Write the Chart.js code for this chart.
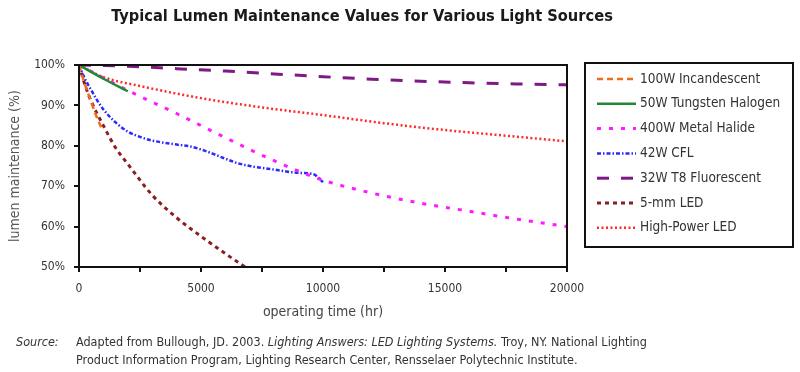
<!DOCTYPE html>
<html>
<head>
<meta charset="utf-8">
<script src="https://cdn.jsdelivr.net/npm/chart.js@4/dist/chart.umd.min.js"></script>
<style>
  html, body { margin: 0; padding: 0; background: #fff; }
</style>
</head>
<body>
<canvas id="chart" width="800" height="372"></canvas>
<script>
// values (hours vs. % of initial lumens)
const incandescentHours = [0, 200, 450, 700, 950]
const incandescentValues = [100, 96, 91.7, 87.5, 84]

const halogenHours = [0, 1000, 2000]
const halogenValues = [100, 96.6, 93.5]

const metalHalideHours = [0, 2000, 4000, 6000, 8000, 10000, 12000, 14000, 16000, 18000, 20000]
const metalHalideValues = [100, 93.7, 88, 82, 76.3, 71.5, 68.3, 65.8, 63.8, 61.8, 60]

const cflHours = [0, 250, 500, 750, 1000, 1500, 2000, 2500, 3000, 4000, 4500, 5000, 5500, 6000, 6500, 7000, 8000, 9000, 9600, 10000]
const cflValues = [100, 96.5, 93.8, 91.2, 89, 85.8, 83.5, 82.2, 81.3, 80.3, 79.9, 79.1, 78, 76.8, 75.7, 75, 74.1, 73.3, 73, 71]

const t8Hours = [0, 2000, 4000, 6000, 8000, 10000, 12000, 14000, 16000, 18000, 20000]
const t8Values = [100, 99.7, 99.1, 98.5, 97.8, 97.1, 96.5, 96, 95.6, 95.3, 95.1]

const led5mmHours = [0, 250, 500, 1000, 1500, 2000, 3000, 4000, 5000, 6000, 7000]
const led5mmValues = [100, 95, 91, 85, 79.5, 75.5, 67.8, 62.2, 57.6, 53.3, 49.2]

const hpLedHours = [0, 1000, 2500, 5000, 7500, 10000, 12500, 15000, 17500, 20000]
const hpLedValues = [100, 97, 94.8, 91.8, 89.5, 87.6, 85.6, 83.9, 82.5, 81.1]

const seriesLabels = ["100W Incandescent", "50W Tungsten Halogen", "400W Metal Halide", "42W CFL", "32W T8 Fluorescent", "5-mm LED", "High-Power LED"]

const chartTitle = "Typical Lumen Maintenance Values for Various Light Sources"
const xTitle = "operating time (hr)"
const yTitle = "lumen maintenance (%)"

const FONT = "'Liberation Sans Narrow', 'DejaVu Sans Condensed', sans-serif"

function pts(hours, values) {
  return hours.map((h, i) => ({x: h, y: values[i]}))
}

function line(label, hours, values, color, dash, width) {
  return {
    label: label,
    data: pts(hours, values),
    borderColor: color,
    backgroundColor: color,
    borderDash: dash,
    borderWidth: width,
    pointRadius: 0,
    cubicInterpolationMode: "monotone",
    fill: false,
    clip: 0
  }
}

const datasets = [
  line(seriesLabels[0], incandescentHours, incandescentValues, "#f26a1b", [6, 4], 2.5),
  line(seriesLabels[1], halogenHours, halogenValues, "#1f8a32", [], 2.5),
  line(seriesLabels[2], metalHalideHours, metalHalideValues, "#ff1aff", [4, 8], 3),
  line(seriesLabels[3], cflHours, cflValues, "#2a2aff", [4, 2, 1.5, 2], 2.5),
  line(seriesLabels[4], t8Hours, t8Values, "#7d1a86", [12, 12], 3),
  line(seriesLabels[5], led5mmHours, led5mmValues, "#8a1f1f", [4, 4], 3),
  line(seriesLabels[6], hpLedHours, hpLedValues, "#ff2a2a", [2, 2.5], 2.5)
]

// frame, title, boxed legend and source note
const decorations = {
  id: "decorations",
  afterDatasetsDraw(chart) {
    const {ctx, chartArea} = chart
    ctx.save()
    ctx.strokeStyle = "#111"
    ctx.lineWidth = 2
    ctx.setLineDash([])
    ctx.strokeRect(chartArea.left, chartArea.top, chartArea.right - chartArea.left, chartArea.bottom - chartArea.top)
    ctx.restore()
  },
  afterDraw(chart) {
    const ctx = chart.ctx
    ctx.save()

    ctx.fillStyle = "#1a1a1a"
    ctx.font = "bold 16.3px " + FONT
    ctx.textAlign = "center"
    ctx.textBaseline = "middle"
    ctx.fillText(chartTitle, 362, 17)

    // legend
    const box = {left: 585, top: 63, right: 793, bottom: 247}
    ctx.strokeStyle = "#111"
    ctx.lineWidth = 2
    ctx.strokeRect(box.left, box.top, box.right - box.left, box.bottom - box.top)
    ctx.font = "13.5px " + FONT
    ctx.textAlign = "left"
    chart.data.datasets.forEach((ds, i) => {
      const y = 79 + i * 24.8
      ctx.beginPath()
      ctx.strokeStyle = ds.borderColor
      ctx.lineWidth = ds.borderWidth
      ctx.setLineDash(ds.borderDash)
      ctx.moveTo(597, y)
      ctx.lineTo(636, y)
      ctx.stroke()
      ctx.fillStyle = "#333"
      ctx.fillText(ds.label, 640, y)
    })
    ctx.setLineDash([])

    // source note
    ctx.fillStyle = "#333"
    ctx.font = "italic 12.5px " + FONT
    ctx.fillText("Source:", 16, 343)
    let x = 76
    const parts = [
      ["Adapted from Bullough, JD. 2003. ", false],
      ["Lighting Answers: LED Lighting Systems.", true],
      [" Troy, NY. National Lighting", false]
    ]
    parts.forEach(([t, it]) => {
      ctx.font = (it ? "italic " : "") + "12.5px " + FONT
      ctx.fillText(t, x, 343)
      x += ctx.measureText(t).width
    })
    ctx.font = "12.5px " + FONT
    ctx.fillText("Product Information Program, Lighting Research Center, Rensselaer Polytechnic Institute.", 76, 361)
    ctx.restore()
  }
}

new Chart(document.getElementById("chart"), {
  type: "line",
  data: {datasets: datasets},
  options: {
    responsive: false,
    animation: false,
    layout: {padding: {left: 0, top: 65, right: 233, bottom: 51}},
    plugins: {legend: {display: false}, tooltip: {enabled: false}},
    scales: {
      x: {
        type: "linear",
        min: 0,
        max: 20000,
        afterFit: s => { s.height = 54 },
        ticks: {
          stepSize: 2500,
          padding: 10,
          color: "#333",
          font: {family: FONT, size: 12},
          maxRotation: 0,
          callback: v => (v % 5000 === 0 ? String(v) : "")
        },
        grid: {drawOnChartArea: false, drawTicks: true, tickLength: 5, color: "#111", lineWidth: 2},
        border: {display: true, color: "#111", width: 2},
        title: {display: true, text: xTitle, color: "#444", font: {family: FONT, size: 14}, padding: 0}
      },
      y: {
        min: 50,
        max: 100,
        afterFit: s => { s.width = 79 },
        ticks: {
          stepSize: 10,
          padding: 9,
          color: "#333",
          font: {family: FONT, size: 12},
          callback: v => v + "%"
        },
        grid: {drawOnChartArea: false, drawTicks: true, tickLength: 5, color: "#111", lineWidth: 2},
        border: {display: true, color: "#111", width: 2},
        title: {display: true, text: yTitle, color: "#555", font: {family: FONT, size: 14}, padding: {top: 7, bottom: 0}}
      }
    }
  },
  plugins: [decorations]
})
</script>
</body>
</html>
